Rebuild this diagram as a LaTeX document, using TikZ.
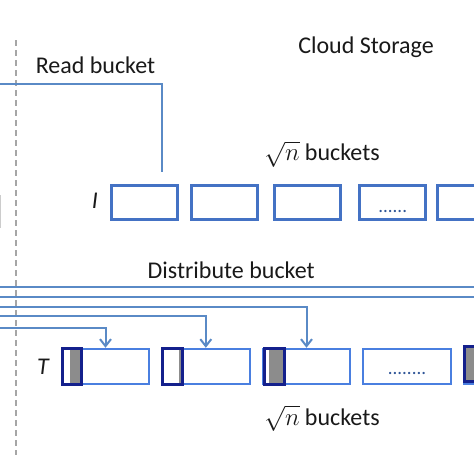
\documentclass[tikz,border=0pt]{standalone}
\usepackage{fontspec}
\setmainfont{Carlito}
\usetikzlibrary{arrows.meta,calc}
\definecolor{topblue}{HTML}{4472C4}
\definecolor{lightblue}{HTML}{4A7FE0}
\definecolor{navy}{HTML}{14208C}
\definecolor{linkblue}{HTML}{5A8AC6}
\definecolor{dashgray}{HTML}{A6A6A6}
\definecolor{dotblue}{HTML}{2F5597}
\definecolor{fillgray}{HTML}{8C8C8C}
\begin{document}
\begin{tikzpicture}[x=1pt,y=-1pt,
  txt/.style={font=\fontsize{24}{28}\selectfont, text=black!90, inner sep=0pt, anchor=base},
  lbl/.style={font=\fontsize{24}{28}\selectfont\itshape, text=black!90, inner sep=0pt, anchor=base},
  topbox/.style={draw=topblue, line width=3pt, minimum width=66pt, minimum height=34pt, inner sep=0pt},
  botbox/.style={draw=lightblue, line width=2pt, minimum width=87.5pt, minimum height=35.5pt, inner sep=0pt},
  darkbox/.style={draw=navy, line width=3pt, minimum width=19.5pt, minimum height=35.5pt, inner sep=0pt,
    path picture={\fill[fillgray] ($(path picture bounding box.north east)+(-#1,0)$) rectangle (path picture bounding box.south east);}},
  link/.style={draw=linkblue, line width=2pt},
  linkarrow/.style={link, -{Straight Barb[length=7pt,width=11pt,line width=2pt]}},
  dots/.style={font=\fontsize{19}{22}\selectfont, text=dotblue, inner sep=0pt, anchor=base}
]
\useasboundingbox (0,0) rectangle (474,474);
\clip (0,0) rectangle (474,474);

% left faint edge and dashed separator
\coordinate (fa) at (0.6,195);
\coordinate (fb) at (0.6,228);
\draw[black!20, line width=0.8pt] (fa) -- (fb);
\coordinate (sepTop) at (16,40);
\coordinate (sepBot) at (16,455);
\draw[dashgray, line width=2pt, dash pattern=on 6pt off 4pt] (sepTop) -- (sepBot);

% texts
\node[txt] (cloud) at (366,53.3) {Cloud Storage};
\node[txt] (read) at (95.5,73.3) {Read bucket};
\node[txt] (dist) at (231.2,278.3) {Distribute bucket};
\node[txt] (sqtop) at (322,160.7) {$\sqrt{n}$ buckets};
\node[txt] (sqbot) at (322,425) {$\sqrt{n}$ buckets};
\node[lbl] (Ilbl) at (95,208.3) {I};
\node[lbl] (Tlbl) at (43,374) {T};

% top row (I)
\node[topbox] (I1) at (144.3,202.3) {};
\node[topbox] (I2) at (224.7,202.3) {};
\node[topbox] (I3) at (307.8,202.3) {};
\node[topbox] (I4) at (392.2,202.3) {};
\node[topbox] (I5) at (470.4,202.3) {};
\node[dots] (d1) at (392.7,212) {......};

% bottom row (T)
\node[botbox] (T1) at (105.5,366.5) {};
\node[botbox] (T2) at (205.8,366.5) {};
\node[botbox] (T3) at (306.5,366.5) {};
\node[botbox] (T4) at (407,366.5) {};
\node[botbox] (T5) at (508,366.5) {};
\node[darkbox=11.5pt] (D1) at (72.2,366.5) {};
\node[darkbox=3.5pt] (D2) at (172.6,366.5) {};
\node[darkbox=15pt] (D3) at (274.3,366.5) {};
\node[darkbox=20pt] (D5) at (474.6,364) {};
\node[dots] (d2) at (407,374) {........};

% read bucket connector
\coordinate (r0) at (0,84.3);
\coordinate (r1) at (162.3,84.3);
\coordinate (r2) at (162.3,171.7);
\draw[link] (r0) -- (r1) -- (r2);

% distribute connectors
\coordinate (a0) at (0,287.3);
\coordinate (a1) at (474,287.3);
\coordinate (b0) at (0,297.3);
\coordinate (b1) at (474,297.3);
\draw[link] (a0) -- (a1);
\draw[link] (b0) -- (b1);
\coordinate (c0) at (0,307.3);
\coordinate (e0) at (0,316);
\coordinate (f0) at (0,327.7);
\draw[linkarrow] (c0) -| (T3.north);
\draw[linkarrow] (e0) -| (T2.north);
\draw[linkarrow] (f0) -| (T1.north);
\end{tikzpicture}
\end{document}
